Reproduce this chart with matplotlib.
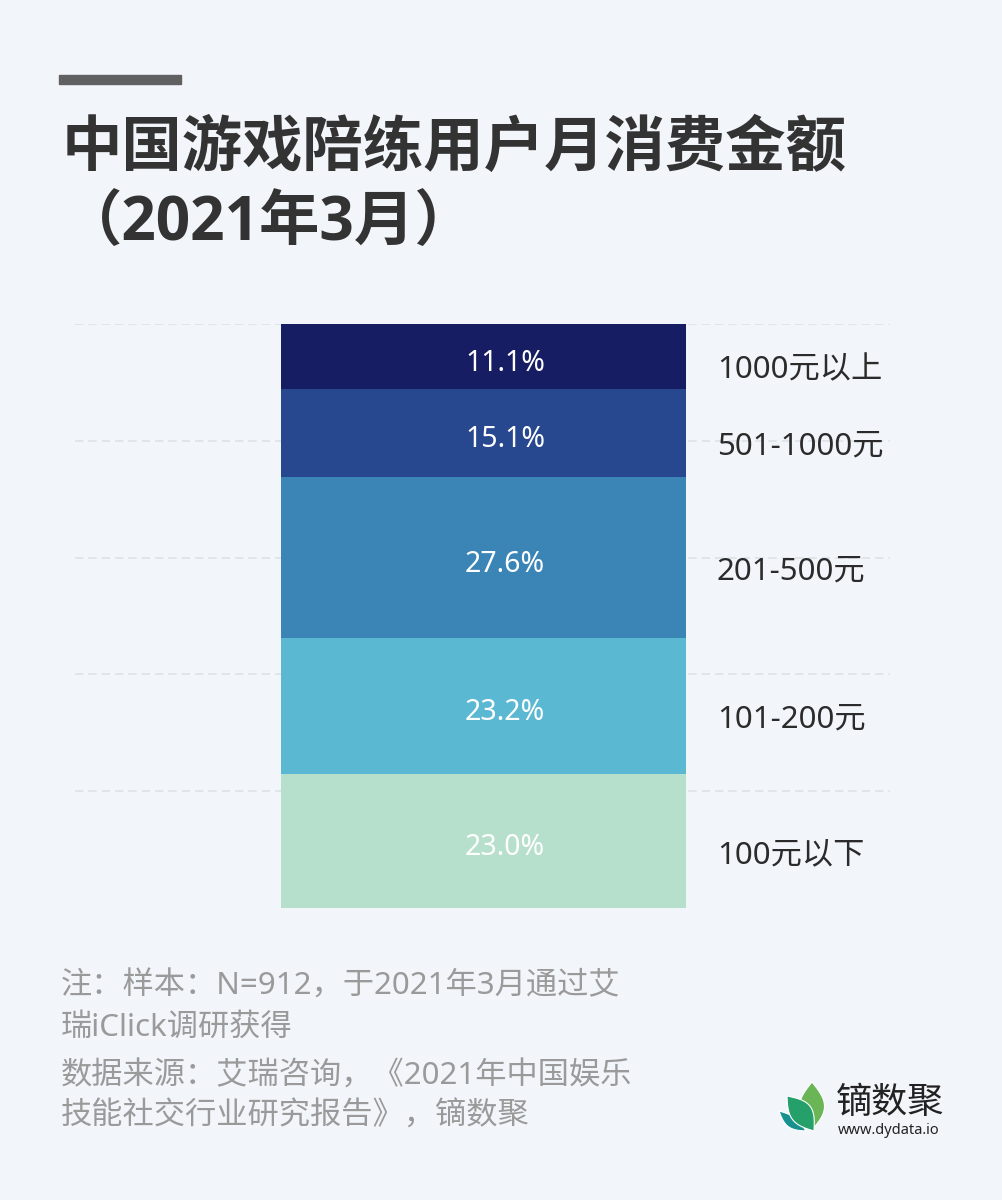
import numpy as np
import matplotlib
matplotlib.use("Agg")
import matplotlib.pyplot as plt
from matplotlib.patches import Polygon, Rectangle

FONTS = ['Noto Sans', 'Noto Sans CJK SC', 'DejaVu Sans']
TITLE_FONTS = ['Open Sans', 'Noto Sans CJK SC', 'DejaVu Sans']
plt.rcParams['font.family'] = FONTS

# data, bottom to top
categories = ['100元以下', '101-200元', '201-500元', '501-1000元', '1000元以上']
shares = [23.0, 23.2, 27.6, 15.1, 11.1]
colors = ['#b6dfcc', '#5bb8d3', '#3a84b6', '#27478f', '#161d63']
gridlines = [20, 40, 60, 80, 100]

title_lines = ['中国游戏陪练用户月消费金额', '（2021年3月）']
notes = ['注：样本：N=912，于2021年3月通过艾',
         '瑞iClick调研获得',
         '数据来源：艾瑞咨询，《2021年中国娱乐',
         '技能社交行业研究报告》，镝数聚']

W, H = 1003, 1200
bg = '#f2f6fa'
fig = plt.figure(figsize=(W / 100, H / 100), dpi=100, facecolor=bg)

# overlay in pixel coordinates for decorations and text
ov = fig.add_axes([0, 0, 1, 1], zorder=5)
ov.set_xlim(0, W)
ov.set_ylim(H, 0)
ov.axis('off')
ov.patch.set_alpha(0)

# chart axes, pixel box x 75..890, y 324..908
x0, x1, ytop, ybot = 75, 890, 324, 908
ax = fig.add_axes([x0 / W, 1 - ybot / H, (x1 - x0) / W, (ybot - ytop) / H], zorder=2)
ax.set_facecolor(bg)
px = 405.0  # pixels per data unit
ax.set_xlim(-(483.5 - x0) / px, (x1 - 483.5) / px)
ax.set_ylim(0, 100)
for s in ax.spines.values():
    s.set_visible(False)
ax.set_xticks([])
ax.set_yticks([])

for g in gridlines:
    ax.axhline(g, color='#dde2e6', lw=1.2, ls=(0, (5, 3)), zorder=0)

bottom = 0
for cat, v, c in zip(categories, shares, colors):
    ax.bar(0, v, width=1.0, bottom=bottom, color=c, zorder=2)
    mid = bottom + v / 2
    ax.text(0.053, mid - 1.2, f'{v:.1f}%', ha='center', va='center',
            color='white', fontsize=20.5)
    ax.text((717 - 483.5) / px, mid - 2.4, cat, ha='left', va='center',
            color='#2b2b2b', fontsize=22.5, clip_on=False)
    bottom += v

# header bar
ov.add_patch(Rectangle((59, 75), 122, 9, color='#616161'))

# title
ov.text(62, 150, title_lines[0], fontsize=43.5, fontweight='bold',
        family=TITLE_FONTS, color='#333333', ha='left', va='center')
ov.text(62, 225, title_lines[1], fontsize=43.5, fontweight='bold',
        family=TITLE_FONTS, color='#333333', ha='left', va='center')

# notes
for txt, y in zip(notes, [987, 1028, 1077, 1117]):
    ov.text(61, y, txt, fontsize=22.5, color='#9a9a9a', ha='left', va='center')


# logo
def leaf(p0, p1, wl, wr, color):
    p0, p1 = np.array(p0, float), np.array(p1, float)
    d = p1 - p0
    n = np.array([-d[1], d[0]]) / np.hypot(*d)
    t = np.linspace(0, 1, 40)
    s = np.sin(np.pi * t)
    right = p0 + np.outer(t, d) + np.outer(s * wr, n)
    left = p0 + np.outer(t, d) - np.outer(s * wl, n)
    pts = np.vstack([right, left[::-1]])
    ov.add_patch(Polygon(pts, closed=True, facecolor=color,
                         edgecolor='white', lw=0.8))


leaf((812, 1082), (811, 1131), 13, 12, '#6ab556')
leaf((779, 1111), (806, 1131), 4, 7, '#17908e')
leaf((787, 1096), (814, 1131), 12, 10, '#25a06b')
ov.text(836, 1104, '镝数聚', fontsize=26, color='#222222', ha='left', va='center')
ov.text(838, 1130, 'www.dydata.io', fontsize=10.5, color='#222222',
        ha='left', va='center')

fig.savefig('out.png', dpi=100, facecolor=bg)
